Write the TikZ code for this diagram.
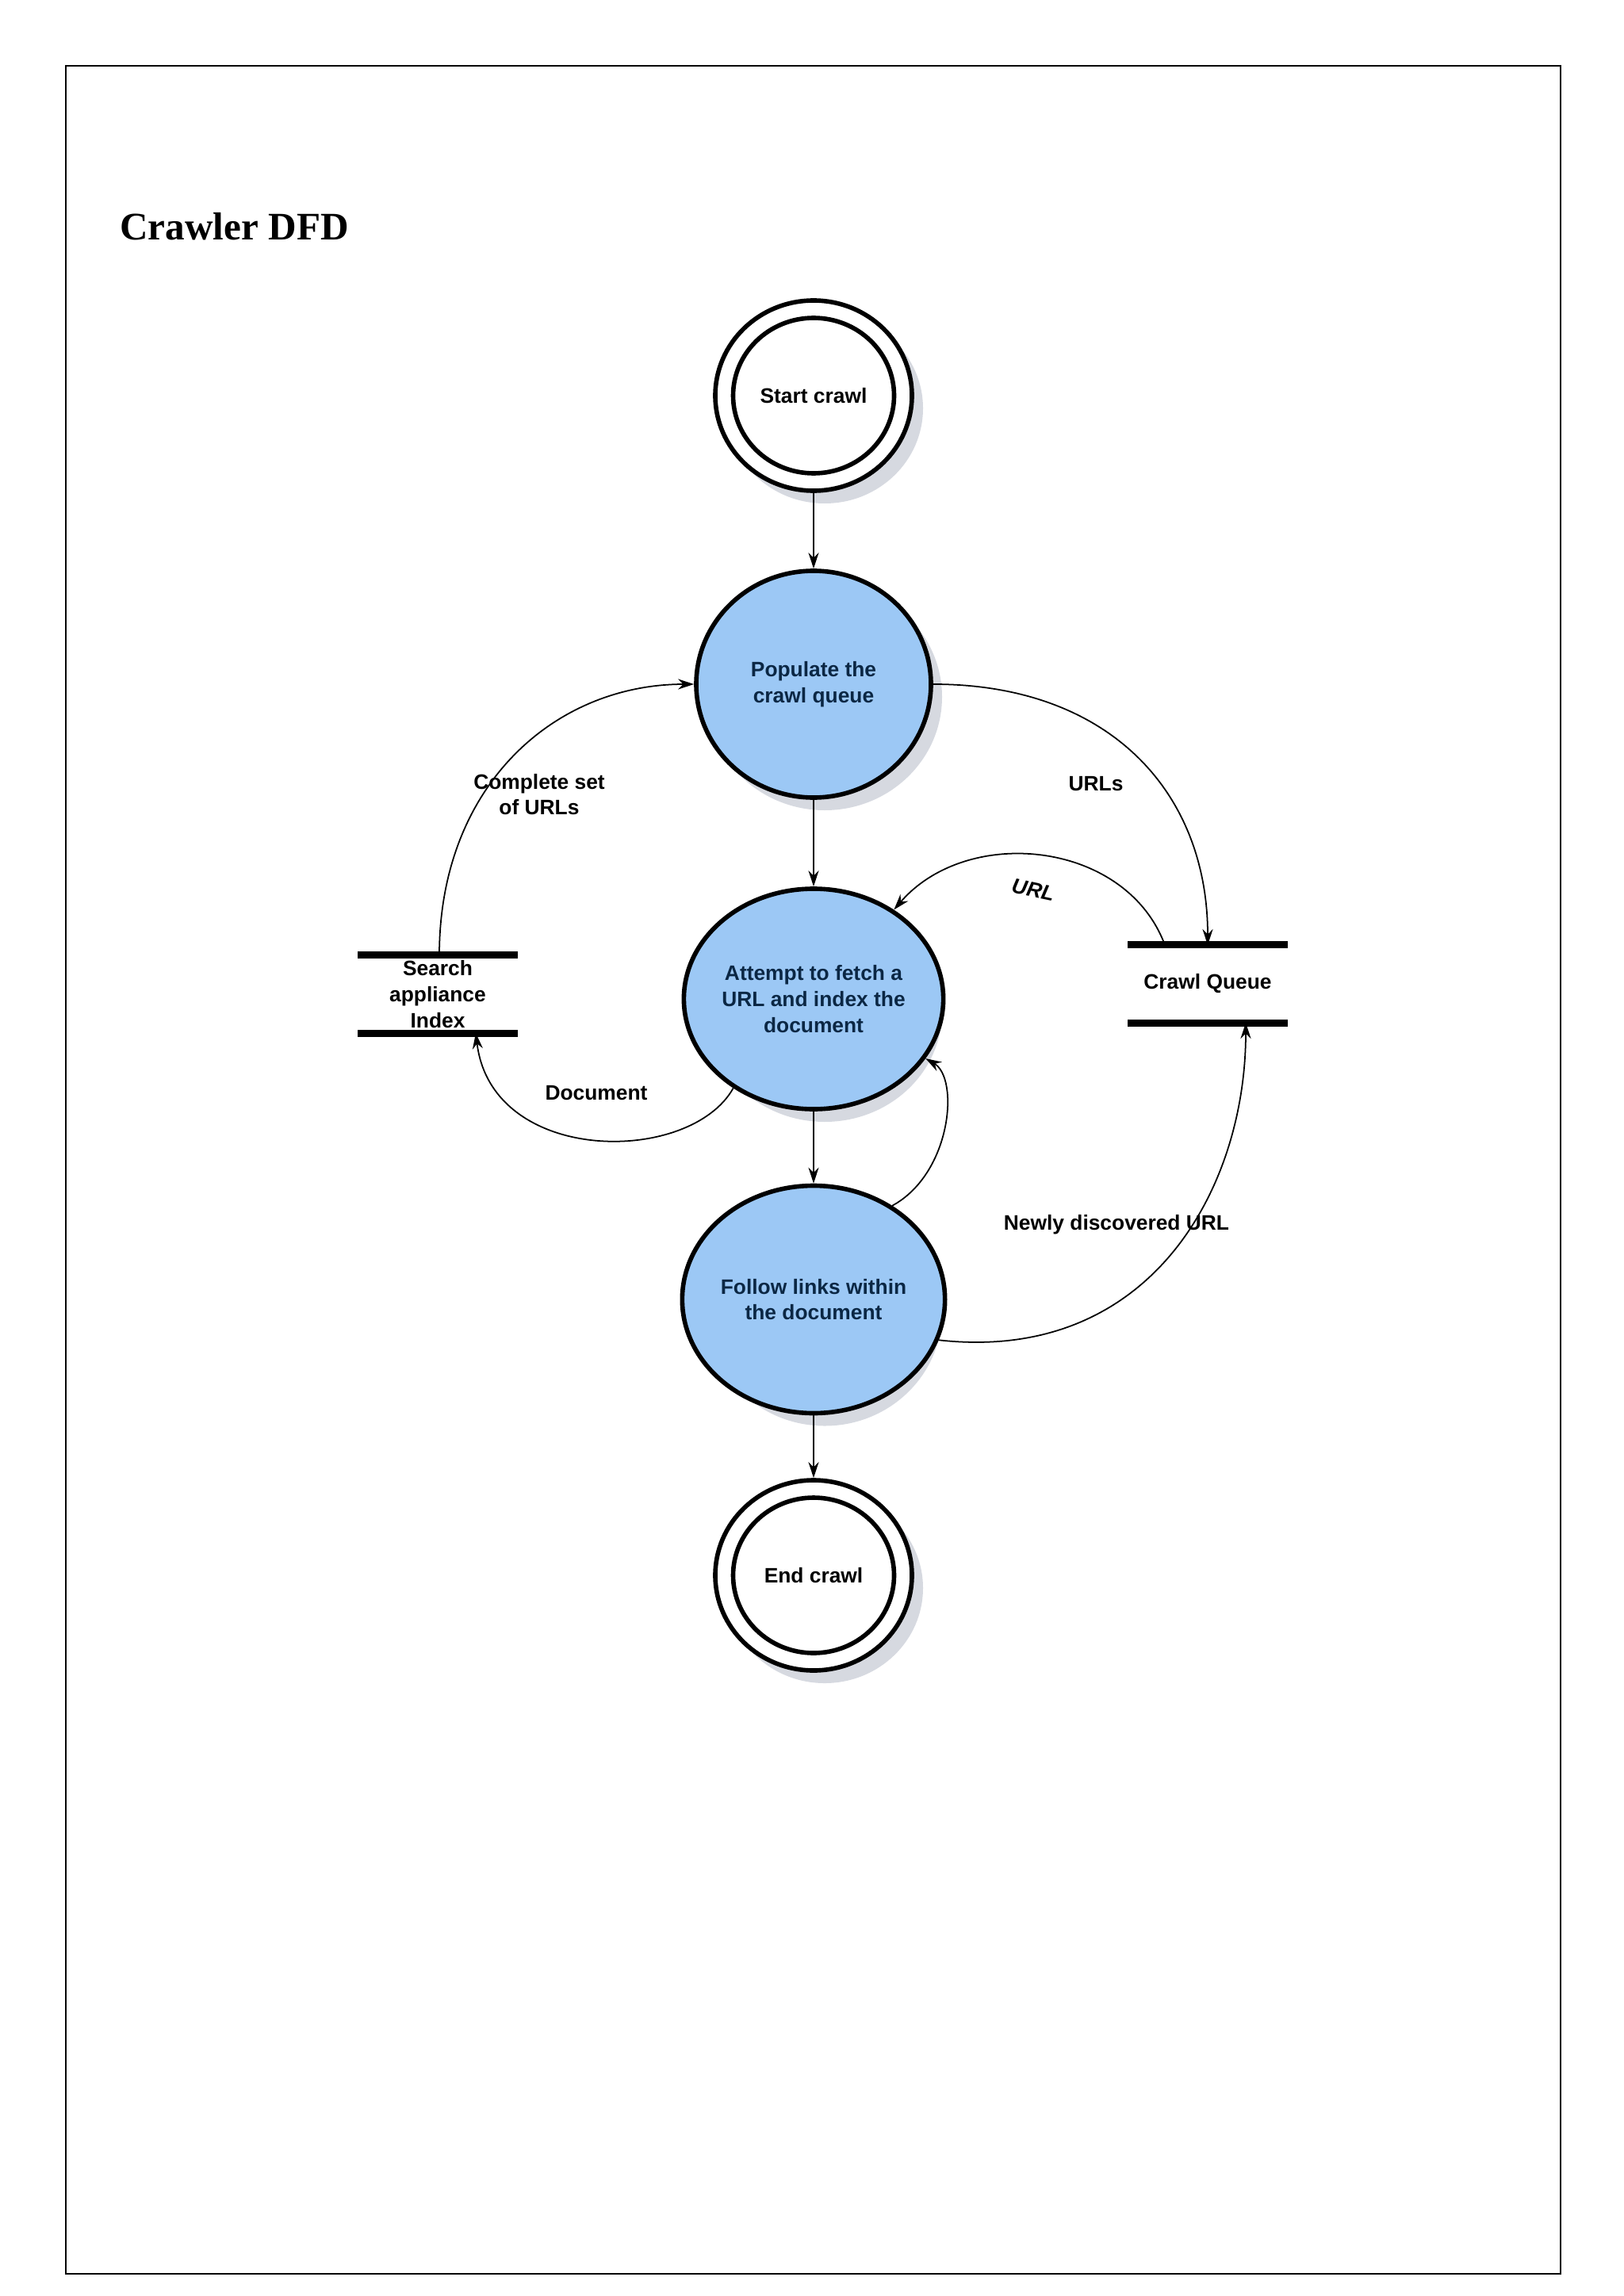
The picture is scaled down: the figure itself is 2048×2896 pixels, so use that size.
\documentclass[tikz,border=0pt]{standalone}
\usepackage{fontspec}
\setmainfont{Liberation Serif}
\setsansfont{Liberation Sans}
\usetikzlibrary{shapes.geometric,arrows.meta}
\definecolor{procfill}{HTML}{9CC8F5}
\definecolor{proctext}{HTML}{0B2744}
\definecolor{shadowc}{HTML}{D6D9E0}
\tikzset{
  proc/.style={ellipse,draw=black,line width=1.6pt,fill=procfill,minimum width=29.6mm,minimum height=28.6mm,align=center,font=\sffamily\bfseries\fontsize{7.5}{9.3}\selectfont,text=proctext,inner sep=0pt},
  term/.style={ellipse,draw=black,line width=1.6pt,fill=white,minimum width=24.8mm,minimum height=24mm,inner sep=0pt},
  terminner/.style={ellipse,draw=black,line width=1.6pt,minimum width=20.3mm,minimum height=19.6mm,align=center,font=\sffamily\bfseries\fontsize{7.5}{9.3}\selectfont,inner sep=0pt},
  shad/.style={ellipse,fill=shadowc,draw=none,inner sep=0pt},
  storeline/.style={line width=2.4pt},
  lab/.style={font=\sffamily\bfseries\fontsize{7.5}{9.3}\selectfont,align=center,inner sep=1pt},
  flow/.style={line width=0.5pt,-{Stealth[length=2mm,width=1.3mm]}}
}
\begin{document}
\begin{tikzpicture}[x=0.1mm,y=-0.1mm]
\useasboundingbox (0,0) rectangle (2048,2896);
\draw[line width=0.6pt] (83,83) rectangle (1968,2868);
\node[anchor=west,font=\bfseries\fontsize{14}{16}\selectfont] (title) at (139,286) {Crawler DFD};
% shadows
\node[shad,minimum width=24.8mm,minimum height=24mm] at (1040,515) {};
\node[shad,minimum width=29.6mm,minimum height=28.6mm] at (1040,879) {};
\node[shad,minimum width=29.6mm,minimum height=27.8mm] at (1040,1276) {};
\node[shad,minimum width=29.6mm,minimum height=28.7mm] at (1040,1655) {};
\node[shad,minimum width=24.8mm,minimum height=24mm] at (1040,2003) {};
% nodes
\node[term] (start) at (1026,499) {};
\node[terminner] (starti) at (1026,499) {Start crawl};
\node[proc] (pop) at (1026,863) {Populate the\\crawl queue};
\node[proc,minimum height=27.8mm] (att) at (1026,1260) {Attempt to fetch a\\URL and index the\\document};
\node[proc,minimum height=28.7mm] (fol) at (1026,1639) {Follow links within\\the document};
\node[term] (end) at (1026,1987) {};
\node[terminner] (endi) at (1026,1987) {End crawl};
% stores
\node[lab,minimum width=20mm,minimum height=9.8mm,inner sep=0pt] (search) at (552,1254) {Search\\appliance\\Index};
\draw[storeline] (search.north west) -- (search.north east);
\draw[storeline] (search.south west) -- (search.south east);
\node[lab,minimum width=20mm,minimum height=9.8mm,inner sep=0pt] (queue) at (1523,1241) {Crawl Queue};
\draw[storeline] (queue.north west) -- (queue.north east);
\draw[storeline] (queue.south west) -- (queue.south east);
\coordinate (qtopA) at (1523,1192);
\coordinate (qtopB) at (1469,1192);
\coordinate (qbot) at (1571,1290);
\coordinate (stop) at (554,1205);
\coordinate (sbot) at (600,1303);
% straight flows
\draw[flow] (start.south) -- (pop.north);
\draw[flow] (pop.south) -- (att.north);
\draw[flow] (att.south) -- (fol.north);
\draw[flow] (fol.south) -- (end.north);
% curved flows
\draw[flow] (stop) .. controls (554,990) and (700,863) .. (pop.west);
\node[lab] (l1) at (680,1002) {Complete set\\of URLs};
\draw[flow] (pop.east) .. controls (1400,863) and (1523,1000) .. (qtopA);
\node[lab] (l2) at (1382,989) {URLs};
\draw[flow] (qtopB) .. controls (1420,1060) and (1220,1040) .. (att.48);
\node[lab,rotate=-12,font=\sffamily\bfseries\itshape\fontsize{7.5}{9.3}\selectfont] (l3) at (1303,1122) {URL};
\draw[flow] (att.228) .. controls (870,1470) and (620,1470) .. (sbot);
\node[lab] (l4) at (752,1379) {Document};
\draw[flow] (fol.50) .. controls (1200,1480) and (1210,1360) .. (att.-28);
\draw[flow] (fol.-18) .. controls (1450,1720) and (1571,1500) .. (qbot);
\node[lab] (l5) at (1408,1545) {Newly discovered URL};
\end{tikzpicture}
\end{document}
